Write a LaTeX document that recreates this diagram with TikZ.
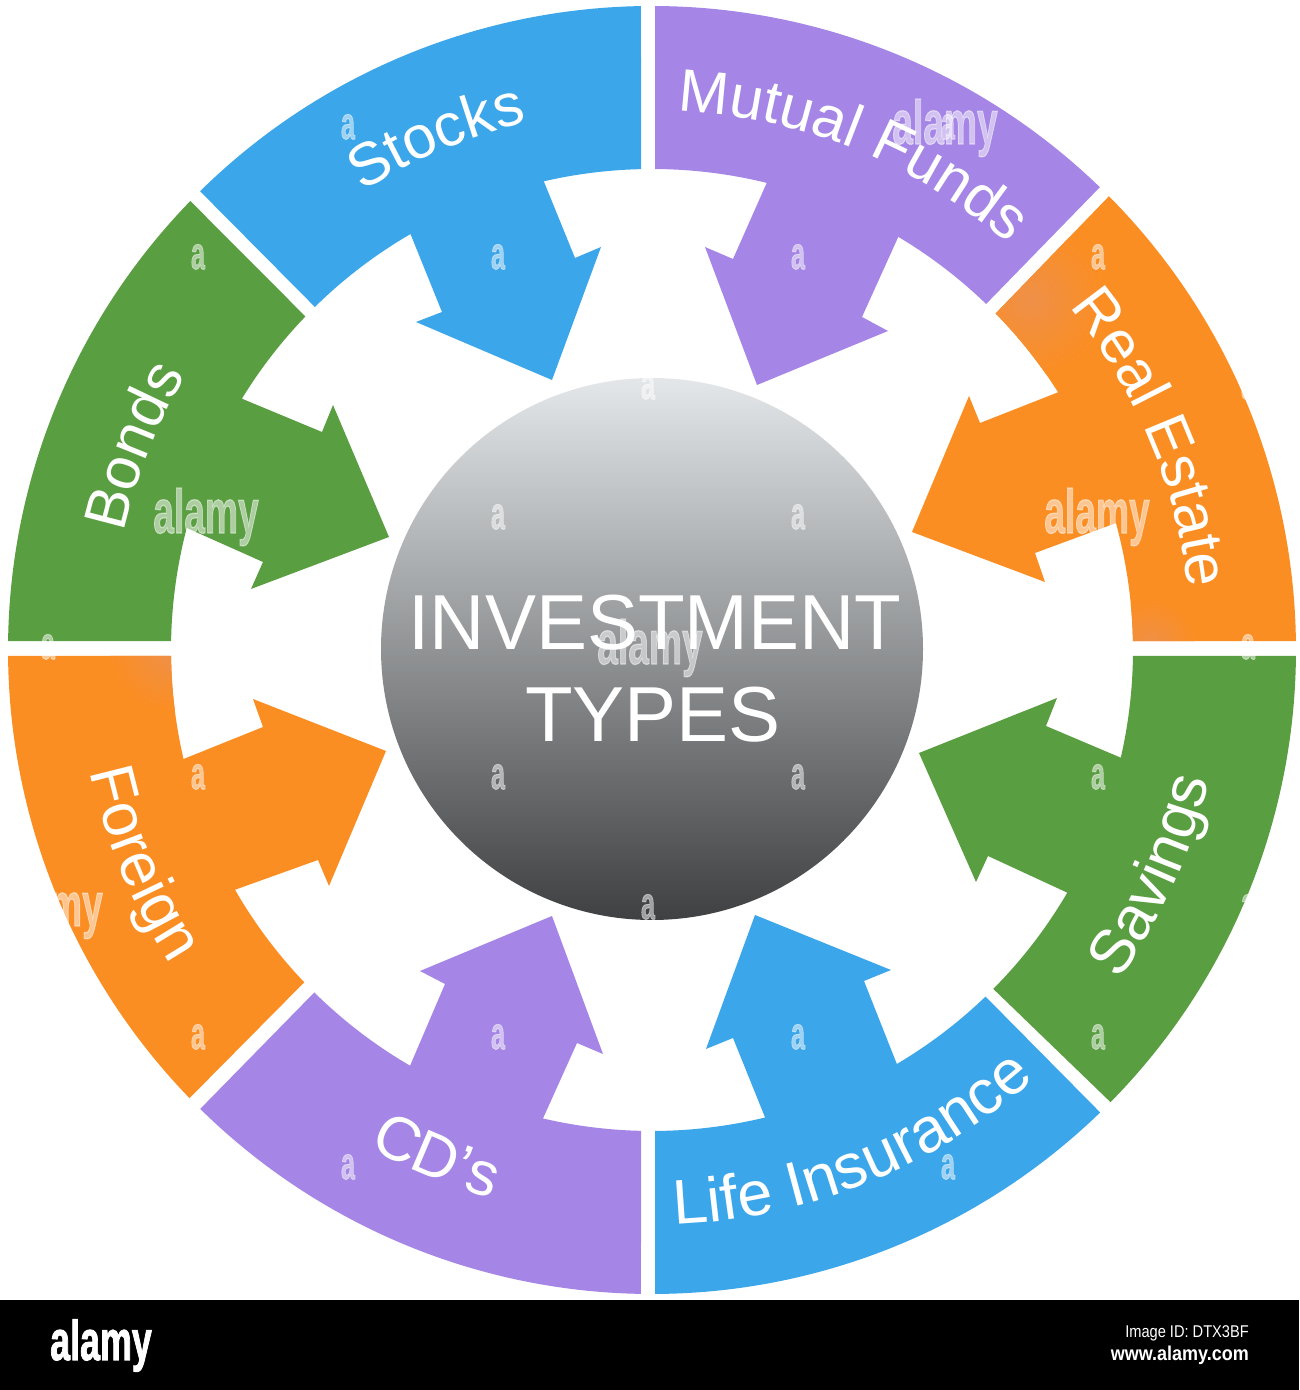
\documentclass[tikz,border=0pt]{standalone}
\usepackage{fontspec}
\usepackage{graphicx}
\setmainfont{Liberation Sans}
\newfontfamily\wmfont[BoldFeatures={FakeBold=2}]{Liberation Sans}
\usetikzlibrary{decorations.text}
\definecolor{ringblue}{HTML}{3BA6EA}
\definecolor{ringpurple}{HTML}{A585E6}
\definecolor{ringorange}{HTML}{FB8E23}
\definecolor{ringtint}{HTML}{EF9048}
\definecolor{ringgreen}{HTML}{5A9E42}
\definecolor{hubtop}{HTML}{E4E7E9}
\definecolor{hubbottom}{HTML}{3E4042}
\newcommand\petalpath[7]{([shift={(#1:644pt)}]c) arc[start angle=#1,end angle=#2,radius=644pt]
    -- ([shift={(#3:481pt)}]c) arc[start angle=#3,end angle=#4,radius=481pt]
    #5 -- ([shift={(#6:481pt)}]c) arc[start angle=#6,end angle=#7,radius=481pt] -- cycle}
\newcommand\petal[8]{\fill[#1] \petalpath{#2}{#3}{#4}{#5}{#6}{#7}{#8};}
\newcommand\ringlabel[5]{%
  \path[decorate,decoration={text along path,text={|\fontsize{#5}{#5}\selectfont\color{white}|#4},text align={center}}]
    ([shift={(#1:#3pt)}]c) arc[start angle=#1,end angle=#2,radius=#3pt];}
\tikzset{
  wmbig/.style={text=white,opacity=.5,font=\wmfont\bfseries\fontsize{62}{62}\selectfont,inner sep=0pt},
  wmsmall/.style={text=white,opacity=.5,font=\wmfont\bfseries\fontsize{46}{46}\selectfont,inner sep=0pt},
  hubtext/.style={text=white,anchor=base,inner sep=0pt,font=\fontsize{78}{78}\selectfont}
}
\newcommand\wmA{\scalebox{.55}[1]{a}}
\newcommand\wmB{\scalebox{.6}[1]{alamy}}
\newcommand\wmC{\scalebox{.6}[1]{my}}
\newcommand\ptsRE{-- (1035,1390-553) -- (1045,1390-582) -- (912,1390-532) -- (969,1390-396) -- (980,1390-423)}
\newcommand\ptsFO{-- (263,1390-727) -- (253,1390-699) -- (386,1390-751) -- (329,1390-886) -- (318,1390-860)}
\begin{document}
\begin{tikzpicture}[x=1pt,y=1pt]
\useasboundingbox (0,0) rectangle (1299,1390);
\fill[white] (0,0) rectangle (1299,1390);
\coordinate (c) at (652,1390-650);
% ring
\petal{ringblue}{90.98}{134.57}{134.5}{120.14}{-- (442,1390-312) -- (416,1390-322) -- (552,1390-380) -- (601,1390-247) -- (575,1390-258)}{103}{91.31}
\petal{ringpurple}{89.73}{45.94}{46}{59.2}{-- (862,1390-317) -- (888,1390-331) -- (757,1390-385) -- (705,1390-247) -- (733,1390-259)}{76.2}{89.64}
\petal{ringorange}{44.8}{0.8}{1.07}{15.3}{\ptsRE}{32.4}{44.4}
\petal{ringgreen}{-0.53}{-44.6}{-44.8}{-30.3}{-- (988,1390-856) -- (976,1390-882) -- (919,1390-753) -- (1057,1390-698) -- (1046,1390-726)}{-12.94}{-0.71}
\petal{ringblue}{-45.9}{-89.73}{-89.64}{-76.4}{-- (733,1390-1038) -- (706,1390-1049) -- (755,1390-915) -- (891,1390-970) -- (864,1390-981)}{-59.4}{-46.1}
\petal{ringpurple}{-90.98}{-134.55}{-134.6}{-120.2}{-- (445,1390-984) -- (420,1390-971) -- (552,1390-916) -- (603,1390-1054) -- (577,1390-1043)}{-103.1}{-91.31}
\petal{ringorange}{-135.9}{-179.47}{-179.29}{-166.9}{\ptsFO}{-150.1}{-136.3}
\petal{ringgreen}{179.2}{135.8}{136.1}{148.5}{-- (322,1390-432) -- (333,1390-405) -- (389,1390-537) -- (251,1390-589) -- (263,1390-562)}{165.3}{178.93}
% duller corners of the orange blocks
\begin{scope}
  \clip \petalpath{44.8}{0.8}{1.07}{15.3}{\ptsRE}{32.4}{44.4};
  \shade[inner color=ringtint,outer color=ringorange] (1030,1390-300) circle (75pt);
  \shade[inner color=ringtint,outer color=ringorange] (1150,1390-645) circle (45pt);
\end{scope}
\begin{scope}
  \clip \petalpath{-135.9}{-179.47}{-179.29}{-166.9}{\ptsFO}{-150.1}{-136.3};
  \shade[inner color=ringtint,outer color=ringorange] (170,1390-650) circle (60pt);
\end{scope}
% hub
\node[circle,minimum size=542pt,inner sep=0pt,top color=hubtop,bottom color=hubbottom,draw=none] (hub) at (652,1390-649) {};
% watermark
\foreach \wx/\wy in {348/127,948/127,198/257,498/257,798/257,1098/257,648/387,498/517,798/517,48/647,1248/647,198/777,498/777,798/777,1098/777,648/907,198/1037,498/1037,798/1037,1098/1037,348/1167,948/1167,1248/387,1248/907}
  \node[wmsmall] at (\wx,1390-\wy) {\wmA};
\foreach \wx/\wy in {206/517,945/128,1097/517,650/648}
  \node[wmbig] at (\wx,1390-\wy) {\wmB};
\node[wmbig,anchor=base east] at (103,1390-926) {\wmC};
% labels
\ringlabel{142.8}{82.8}{542}{Stocks}{60}
\ringlabel{98}{38}{540}{Mutual Funds}{60}
\ringlabel{53}{-7}{540}{Real Estate}{60}
\ringlabel{188.5}{128.5}{541}{Bonds}{60}
\ringlabel{-54.2}{5.8}{572}{Savings}{62}
\ringlabel{-98}{-38}{575}{Life Insurance}{63}
\ringlabel{-143}{-83}{572}{CD’s}{62}
\ringlabel{-187.3}{-127.3}{575}{Foreign}{62}
\node[hubtext] (line1) at (655,1390-650) {\scalebox{.98}[1]{INVESTMENT}};
\node[hubtext] (line2) at (653,1390-742) {TYPES};
% footer
\fill[black] (0,0) rectangle (1299,90);
\node[anchor=base west,inner sep=0pt,text=white,font=\wmfont\bfseries\fontsize{56}{56}\selectfont] (logo) at (50,1390-1360) {\scalebox{.64}[1]{alamy}};
\node[anchor=base east,inner sep=0pt,text=white,font=\fontsize{17}{17}\selectfont] (imgid) at (1249,1390-1338) {\scalebox{.86}[1]{Image ID: DTX3BF}};
\node[anchor=base east,inner sep=0pt,text=white,font=\bfseries\fontsize{20}{20}\selectfont] (site) at (1249,1390-1361) {\scalebox{.9}[1]{www.alamy.com}};
\end{tikzpicture}
\end{document}
